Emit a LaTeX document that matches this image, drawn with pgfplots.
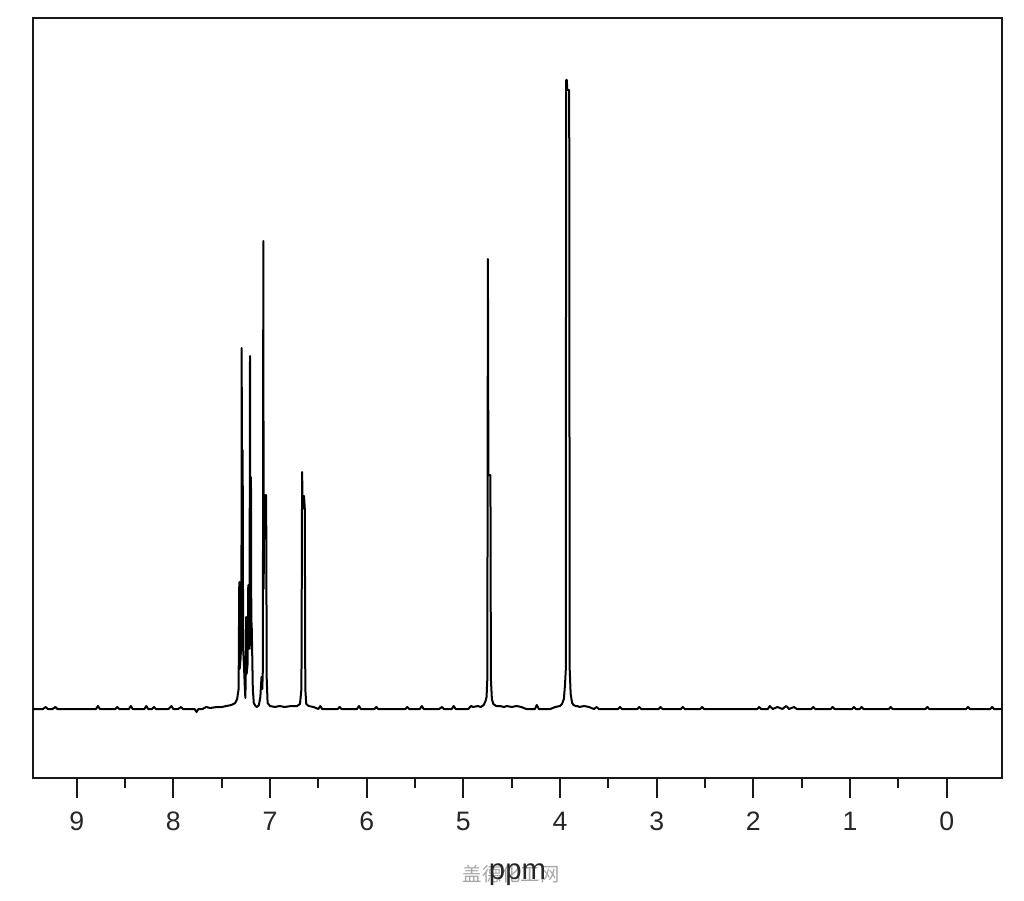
\documentclass[border=0pt]{standalone}
\usepackage{pgfplots}
\pgfplotsset{compat=1.18}
\usepackage{fontspec}
\setmainfont{Liberation Sans}
\newfontfamily\cjk{Noto Sans CJK SC}
\begin{document}
\begin{tikzpicture}
\path[use as bounding box] (-24.75pt,-91.5pt) rectangle (743.25pt,583.5pt);
\node[text=black!35, font=\cjk\fontsize{14.5}{15}\selectfont, anchor=center] at (358.5pt,-72pt) {盖德化工网};
\begin{axis}[at={(0pt,0pt)}, anchor=south west, scale only axis,
  width=726.75pt, height=570pt,
  x dir=reverse, xmin=-0.572, xmax=9.452, ymin=-69, ymax=691,
  xtick={0,1,...,9}, minor xtick={0.5,1.5,2.5,3.5,4.5,5.5,6.5,7.5,8.5},
  ytick=\empty, tick align=outside, xtick pos=bottom,
  major tick length=15pt, minor tick length=7.5pt,
  axis line style={line width=1.6pt, black!90},
  tick style={line width=1.4pt, black!90},
  xticklabel style={font=\fontsize{20}{24}\selectfont, text=black!85, yshift=-7pt},
  /pgf/number format/assume math mode=true,
  xlabel={ppm},
  xlabel style={font=\fontsize{22}{26}\selectfont, text=black!85, at={(axis description cs:0.5,0)}, anchor=center, yshift=-72.75pt},
  clip=true]
\addplot[black, line width=1.5pt, line join=round] table {
9.45 0
9.35 0
9.32 2
9.30 0
9.25 0
9.22 2
9.20 0
8.80 0
8.78 3
8.76 0
8.60 0
8.58 2
8.56 0
8.46 0
8.44 3
8.42 0
8.30 0
8.28 3
8.26 0
8.22 0
8.20 2
8.18 0
8.05 0
8.02 3
8.00 0
7.95 0
7.92 2
7.90 0
7.78 0
7.76 -3
7.74 0
7.70 0
7.66 2
7.62 1
7.55 2
7.50 2
7.45 3
7.40 4
7.36 6
7.34 10
7.325 20
7.318 127
7.314 40
7.305 50
7.296 70
7.293 361
7.289 80
7.283 259
7.278 60
7.270 45
7.262 25
7.255 11
7.250 40
7.248 92
7.242 35
7.232 45
7.225 124
7.220 60
7.212 70
7.207 353
7.203 80
7.197 232
7.193 60
7.190 86
7.185 60
7.178 20
7.168 6
7.150 3
7.135 2
7.115 4
7.100 12
7.088 32
7.080 20
7.074 40
7.069 468
7.066 120
7.060 200
7.052 214
7.046 180
7.040 214
7.034 30
7.025 6
7.00 3
6.95 2
6.90 3
6.85 2
6.78 3
6.72 3
6.69 5
6.675 20
6.668 237
6.662 200
6.655 213
6.648 213
6.640 200
6.635 20
6.625 5
6.60 3
6.55 2
6.50 0
6.48 3
6.46 0
6.30 0
6.28 2
6.26 0
6.10 0
6.08 3
6.06 0
5.92 0
5.90 2
5.88 0
5.60 0
5.58 2
5.56 0
5.45 0
5.43 3
5.41 0
5.25 0
5.22 2
5.20 0
5.12 0
5.10 3
5.08 0
4.95 0
4.92 3
4.90 2
4.85 3
4.82 2
4.79 4
4.770 8
4.760 12
4.752 30
4.746 450
4.741 234
4.730 234
4.720 234
4.715 30
4.705 10
4.69 5
4.66 3
4.62 3
4.58 2
4.55 3
4.50 2
4.45 3
4.40 2
4.35 0
4.26 0
4.24 4
4.22 0
4.10 0
4.05 2
4.00 3
3.98 5
3.96 10
3.948 25
3.940 40
3.937 629
3.930 629
3.925 619
3.915 619
3.905 619
3.900 40
3.890 15
3.875 6
3.86 4
3.84 3
3.82 3
3.80 2
3.75 3
3.70 2
3.65 0
3.62 2
3.60 0
3.40 0
3.38 2
3.36 0
3.20 0
3.18 2
3.16 0
2.98 0
2.96 2
2.94 0
2.75 0
2.73 2
2.71 0
2.55 0
2.53 2
2.51 0
1.96 0
1.94 2
1.92 0
1.85 0
1.83 3
1.80 0
1.75 2
1.70 0
1.66 3
1.63 0
1.58 2
1.55 0
1.40 0
1.38 2
1.36 0
1.20 0
1.18 2
1.16 0
0.98 0
0.96 2
0.94 0
0.90 0
0.88 2
0.86 0
0.60 0
0.58 2
0.56 0
0.22 0
0.20 2
0.18 0
-0.20 0
-0.22 2
-0.24 0
-0.45 0
-0.47 2
-0.49 0
-0.57 0
};
\end{axis}
\end{tikzpicture}
\end{document}
